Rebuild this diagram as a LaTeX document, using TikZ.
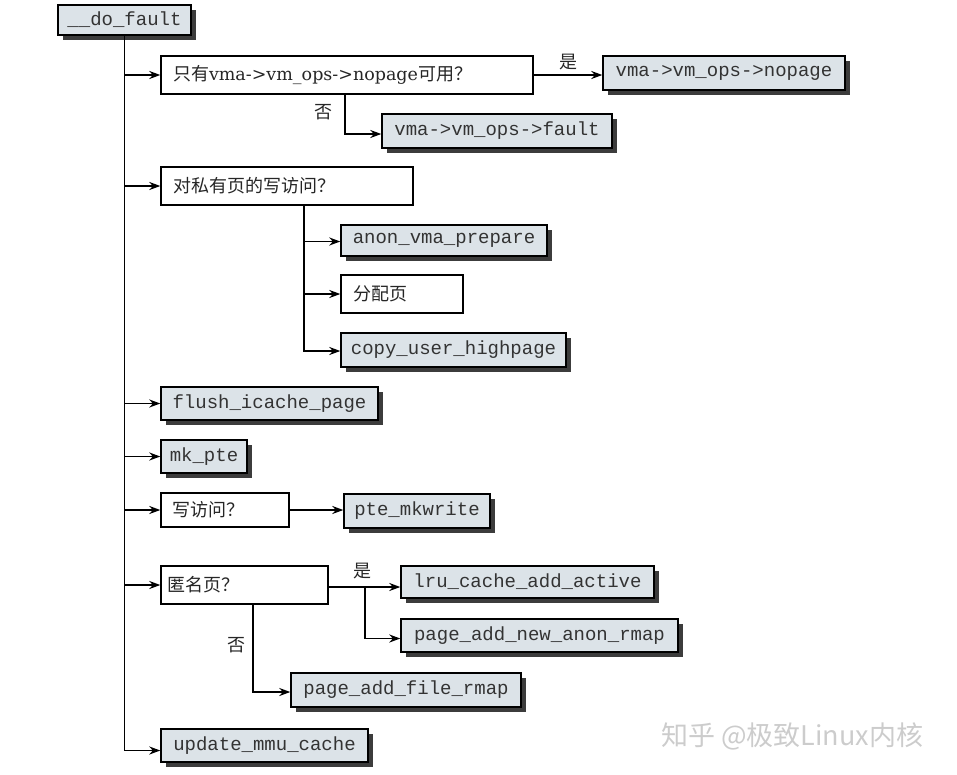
\documentclass[tikz,border=0pt]{standalone}
\usepackage{fontspec}
\newfontfamily\cjk{Noto Sans CJK SC}
\newfontfamily\mono{Liberation Mono}
\newfontfamily\lat{DejaVu Serif}
\usetikzlibrary{arrows.meta,shadows}
\definecolor{boxfill}{HTML}{DCE3E8}
\definecolor{shadowc}{HTML}{3C3C3C}
\begin{document}
\begin{tikzpicture}[x=1pt,y=-1pt,
 fbox/.style={draw, line width=1.4pt, fill=boxfill, text=black!80, font=\mono\fontsize{19}{22}\selectfont, inner sep=0pt,
   drop shadow={shadow xshift=5pt, shadow yshift=-5pt, fill=shadowc, opacity=1}},
 qbox/.style={draw, line width=1.4pt, fill=white, text=black!85, font=\cjk\fontsize{18}{22}\selectfont, inner ysep=0pt, inner xsep=12pt, align=left},
 arr/.style={line width=1.8pt, -{Stealth[length=11pt,width=8pt]}},
 trunk/.style={line width=1.8pt},
 lab/.style={font=\cjk\fontsize{18}{22}\selectfont, text=black!85}]
\useasboundingbox (0,0) rectangle (957,774);
% boxes
\node[fbox, minimum width=133pt, minimum height=30pt] (df) at (124.5,20) {\_\_do\_fault};
\node[qbox, text width=348pt, minimum height=38pt] (q1) at (347,75) {只有{\lat\fontsize{17.5}{22}\selectfont vma->vm\_ops->nopage}可用？};
\node[fbox, minimum width=242pt, minimum height=34pt] (nopage) at (724,73) {vma->vm\_ops->nopage};
\node[fbox, minimum width=230pt, minimum height=34pt] (fault) at (497,131) {vma->vm\_ops->fault};
\node[qbox, text width=228pt, minimum height=38pt, inner xsep=12pt] (q2) at (287,186) {对私有页的写访问？};
\node[fbox, minimum width=206pt, minimum height=31pt] (anon) at (444,240.5) {anon\_vma\_prepare};
\node[qbox, text width=98pt, minimum height=38pt] (fenpei) at (402,294) {分配页};
\node[fbox, minimum width=225pt, minimum height=34pt] (copy) at (453.5,350) {copy\_user\_highpage};
\node[fbox, minimum width=217pt, minimum height=33pt] (flush) at (269.5,403.5) {flush\_icache\_page};
\node[fbox, minimum width=86pt, minimum height=33pt] (mk) at (204,456.5) {mk\_pte};
\node[qbox, text width=106pt, minimum height=34pt, inner xsep=11pt] (q3) at (225,510) {写访问？};
\node[fbox, minimum width=146pt, minimum height=34pt] (ptemk) at (417,511) {pte\_mkwrite};
\node[qbox, text width=155pt, minimum height=38pt, inner xsep=6pt] (q4) at (244.5,585) {匿名页？};
\node[fbox, minimum width=253pt, minimum height=32pt] (lru) at (527.5,582) {lru\_cache\_add\_active};
\node[fbox, minimum width=277pt, minimum height=33pt] (newanon) at (539.5,635.5) {page\_add\_new\_anon\_rmap};
\node[fbox, minimum width=230pt, minimum height=34pt] (file) at (406,690) {page\_add\_file\_rmap};
\node[fbox, minimum width=207pt, minimum height=33pt] (umc) at (264.5,745.5) {update\_mmu\_cache};
% trunk
\draw[trunk] (df.south) -- ([yshift=-5pt]df.south |- umc.west);
\foreach \n in {q1,q2,flush,mk,q3,q4}
  \draw[arr] (df.south |- \n.west) -- (\n.west);
\draw[arr] ([yshift=-5pt]df.south |- umc.west) -- ([yshift=-5pt]umc.west);
% branches
\draw[arr] (q1.east) -- (q1.east -| nopage.west) node[lab, midway, above=1pt] {是};
\draw[arr] ([xshift=-2pt]q1.south) |- ([yshift=-3pt]fault.west);
\node[lab] (no1) at (323,112) {否};
\draw[arr] ([xshift=17pt]q2.south) |- ([yshift=-1pt]anon.west);
\draw[arr] ([xshift=17pt]q2.south) |- (fenpei.west);
\draw[arr] ([xshift=17pt]q2.south) |- ([yshift=-1pt]copy.west);
\draw[arr] (q3.east) -- (q3.east -| ptemk.west);
\draw[arr] ([yshift=-2pt]q4.east) -- ([yshift=-2pt]q4.east -| lru.west);
\node[lab] (yes2) at (362,571) {是};
\draw[arr] ([xshift=36pt,yshift=-2pt]q4.east) |- ([yshift=-3pt]newanon.west);
\draw[arr] ([xshift=8.5pt]q4.south) |- ([yshift=-2pt]file.west);
\node[lab] (no2) at (236,645) {否};
% watermark
\node[font=\cjk\fontsize{27}{32}\selectfont, text=black!20] (wm) at (792,736) {知乎 @极致Linux内核};
\end{tikzpicture}
\end{document}
